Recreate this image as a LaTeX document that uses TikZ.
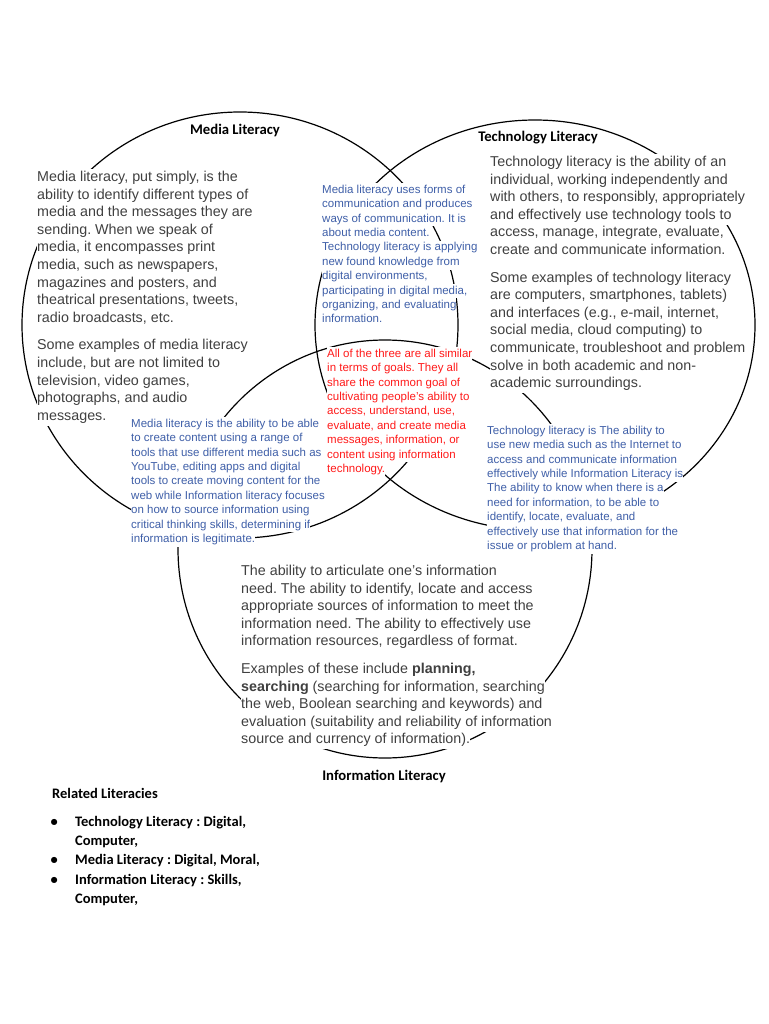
\documentclass[tikz,border=0pt]{standalone}
\usepackage{fontspec}
\setmainfont{Liberation Sans}
\newfontfamily\calfont{Carlito}
\usetikzlibrary{positioning, shapes.geometric}
\definecolor{txtgrey}{HTML}{404040}
\definecolor{txtblue}{HTML}{3F5FA8}
\definecolor{txtred}{HTML}{FF1A1A}
\setlength{\fboxsep}{0pt}
\frenchspacing
\newcommand{\wline}[1]{\colorbox{white}{\strut #1}}
\tikzset{
  ring/.style      = {draw, ellipse, line width=1.2pt, inner sep=0pt, outer sep=0pt},
  bodytxt/.style   = {text=txtgrey, font=\fontsize{14.3}{17.6}\selectfont,
                      align=left, inner sep=0pt, anchor=north west},
  overlap/.style   = {text=txtblue, font=\fontsize{11.5}{14.4}\selectfont,
                      align=left, inner sep=0pt, anchor=north west},
  commontxt/.style = {overlap, text=txtred},
  ringtitle/.style = {font=\calfont\bfseries\fontsize{14.7}{17}\selectfont, inner sep=0pt},
  relitem/.style   = {font=\calfont\bfseries\fontsize{14.5}{19}\selectfont,
                      align=left, inner sep=0pt, anchor=north west},
}

\begin{document}
\begin{tikzpicture}[x=1pt, y=-1pt]
    \fill[white] (0,0) rectangle (768,1024);
    \useasboundingbox (0,0) rectangle (768,1024);
    % the three literacies
    \node[ring, minimum width=436pt, minimum height=426pt] (media) at (240,325) {};
    \node[ring, minimum width=440pt, minimum height=410pt] (tech)  at (535,325) {};
    \node[ring, minimum width=414pt, minimum height=418pt] (info)  at (385,549) {};

    \node[ringtitle] (mediatitle) at (235,130) {Media Literacy};
    \node[ringtitle] (techtitle)  at (538,138) {Technology Literacy};
    \node[ringtitle] (infotitle)  at (384,776) {Information Literacy};

    \node[bodytxt] (mediabody) at (37,169) {%
      \wline{Media literacy, put simply, is the}\\
      \wline{ability to identify different types of}\\
      \wline{media and the messages they are}\\
      \wline{sending. When we speak of}\\
      \wline{media, it encompasses print}\\
      \wline{media, such as newspapers,}\\
      \wline{magazines and posters, and}\\
      \wline{theatrical presentations, tweets,}\\
      \wline{radio broadcasts, etc.}\\[10pt]
      \wline{Some examples of media literacy}\\
      \wline{include, but are not limited to}\\
      \wline{television, video games,}\\
      \wline{photographs, and audio}\\
      \wline{messages.}};

    \node[bodytxt] (techbody) at (490,154) {%
      \wline{Technology literacy is the ability of an}\\
      \wline{individual, working independently and}\\
      \wline{with others, to responsibly, appropriately}\\
      \wline{and effectively use technology tools to}\\
      \wline{access, manage, integrate, evaluate,}\\
      \wline{create and communicate information.}\\[10pt]
      \wline{Some examples of technology literacy}\\
      \wline{are computers, smartphones, tablets)}\\
      \wline{and interfaces (e.g., e-mail, internet,}\\
      \wline{social media, cloud computing) to}\\
      \wline{communicate, troubleshoot and problem}\\
      \wline{solve in both academic and non-}\\
      \wline{academic surroundings.}};

    \node[bodytxt] (infobody) at (241,563) {%
      \wline{The ability to articulate one's information}\\
      \wline{need. The ability to identify, locate and access}\\
      \wline{appropriate sources of information to meet the}\\
      \wline{information need. The ability to effectively use}\\
      \wline{information resources, regardless of format.}\\[10pt]
      \wline{Examples of these include \textbf{planning,}}\\
      \wline{\textbf{searching} (searching for information, searching}\\
      \wline{the web, Boolean searching and keywords) and}\\
      \wline{evaluation (suitability and reliability of information}\\
      \wline{source and currency of information).}};

    % overlaps
    \node[overlap] (mediatech) at (322,183) {%
      \wline{Media literacy uses forms of}\\
      \wline{communication and produces}\\
      \wline{ways of communication. It is}\\
      \wline{about media content.}\\
      \wline{Technology literacy is applying}\\
      \wline{new found knowledge from}\\
      \wline{digital environments,}\\
      \wline{participating in digital media,}\\
      \wline{organizing, and evaluating}\\
      \wline{information.}};

    \node[commontxt] (allthree) at (327,347) {%
      \wline{All of the three are all similar}\\
      \wline{in terms of goals. They all}\\
      \wline{share the common goal of}\\
      \wline{cultivating people's ability to}\\
      \wline{access, understand, use,}\\
      \wline{evaluate, and create media}\\
      \wline{messages, information, or}\\
      \wline{content using information}\\
      \wline{technology.}};

    \node[overlap] (mediainfo) at (131,417) {%
      \wline{Media literacy is the ability to be able}\\
      \wline{to create content using a range of}\\
      \wline{tools that use different media such as}\\
      \wline{YouTube, editing apps and digital}\\
      \wline{tools to create moving content for the}\\
      \wline{web while Information literacy focuses}\\
      \wline{on how to source information using}\\
      \wline{critical thinking skills, determining if}\\
      \wline{information is legitimate.}};

    \node[overlap] (techinfo) at (487,424) {%
      \wline{Technology literacy is The ability to}\\
      \wline{use new media such as the Internet to}\\
      \wline{access and communicate information}\\
      \wline{effectively while Information Literacy is}\\
      \wline{The ability to know when there is a}\\
      \wline{need for information, to be able to}\\
      \wline{identify, locate, evaluate, and}\\
      \wline{effectively use that information for the}\\
      \wline{issue or problem at hand.}};

    % related literacies
    \node[relitem] (related) at (52,785) {\strut Related Literacies};
    \node[relitem] (techrel) at (75,813) {\strut Technology Literacy : Digital,\\\strut Computer,};
    \node[relitem, below=0pt of techrel.south west, anchor=north west] (mediarel) {\strut Media Literacy : Digital, Moral,};
    \node[relitem, below=0pt of mediarel.south west, anchor=north west] (inforel) {\strut Information Literacy : Skills,\\\strut Computer,};
    \node[relitem, left=17pt of techrel.north west, anchor=north east]  (techdot)  {\strut\textbullet};
    \node[relitem, left=17pt of mediarel.north west, anchor=north east] (mediadot) {\strut\textbullet};
    \node[relitem, left=17pt of inforel.north west, anchor=north east]  (infodot)  {\strut\textbullet};
\end{tikzpicture}
\end{document}
